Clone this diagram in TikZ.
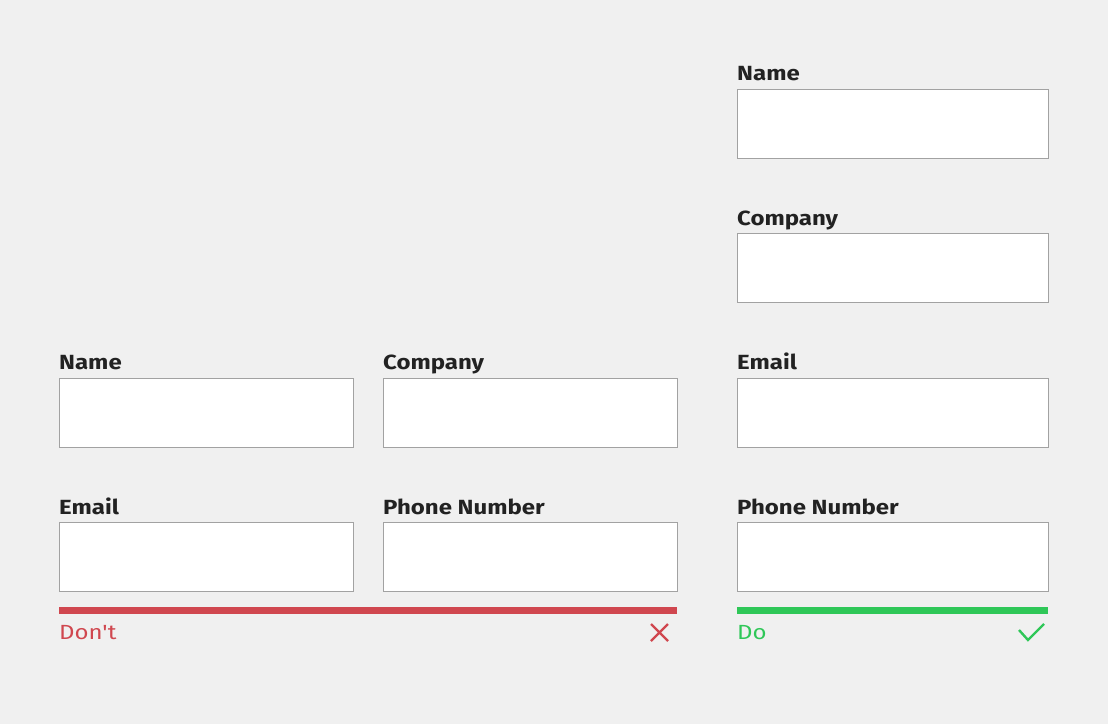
\documentclass[tikz,border=0pt]{standalone}
\usepackage{fontspec}
\setmainfont{Fira Sans}[FakeStretch=1.17]
\newfontfamily\verdictfont{Fira Sans}[FakeStretch=1.17]
\definecolor{bg}{HTML}{F0F0F0}
\definecolor{boxline}{HTML}{A2A2A2}
\definecolor{lbl}{HTML}{222222}
\definecolor{dontred}{HTML}{D0474F}
\definecolor{dogreen}{HTML}{2FC758}
\tikzset{
  field/.style={draw=boxline, line width=1pt, fill=white},
  flabel/.style={anchor=base west, inner sep=0pt, text=lbl, font=\fontsize{20.5}{24}\selectfont\bfseries},
  verdict/.style={anchor=base west, inner sep=0pt, font=\verdictfont\fontsize{20.5}{24}\selectfont},
}
\begin{document}
\begin{tikzpicture}[x=1pt,y=-1pt]
\fill[bg] (0,0) rectangle (1108,724);
\useasboundingbox (0,0) rectangle (1108,724);
% left (don't)
\node[flabel] (lname) at (59,369) {Name};
\draw[field] (59,378) rectangle (353,447);
\node[flabel] (lcomp) at (383,369) {Company};
\draw[field] (383,378) rectangle (677,447);
\node[flabel] (lmail) at (59,514) {Email};
\draw[field] (59,522) rectangle (353,591);
\node[flabel] (lphone) at (383,514) {Phone Number};
\draw[field] (383,522) rectangle (677,591);
\fill[dontred] (59,607) rectangle (677,614);
\node[verdict, text=dontred] (dont) at (59,639) {Don't};
\draw[dontred, line width=2.2pt] (651,624) -- (668,641) (668,624) -- (651,641);
% right (do)
\node[flabel] (rname) at (737,80) {Name};
\draw[field] (737,89) rectangle (1048,158);
\node[flabel] (rcomp) at (737,225) {Company};
\draw[field] (737,233) rectangle (1048,302);
\node[flabel] (rmail) at (737,369) {Email};
\draw[field] (737,378) rectangle (1048,447);
\node[flabel] (rphone) at (737,514) {Phone Number};
\draw[field] (737,522) rectangle (1048,591);
\fill[dogreen] (737,607) rectangle (1048,614);
\node[verdict, text=dogreen] (do) at (737,639) {Do};
\draw[dogreen, line width=2.4pt] (1019,630) -- (1028,640) -- (1044,624);
\end{tikzpicture}
\end{document}
